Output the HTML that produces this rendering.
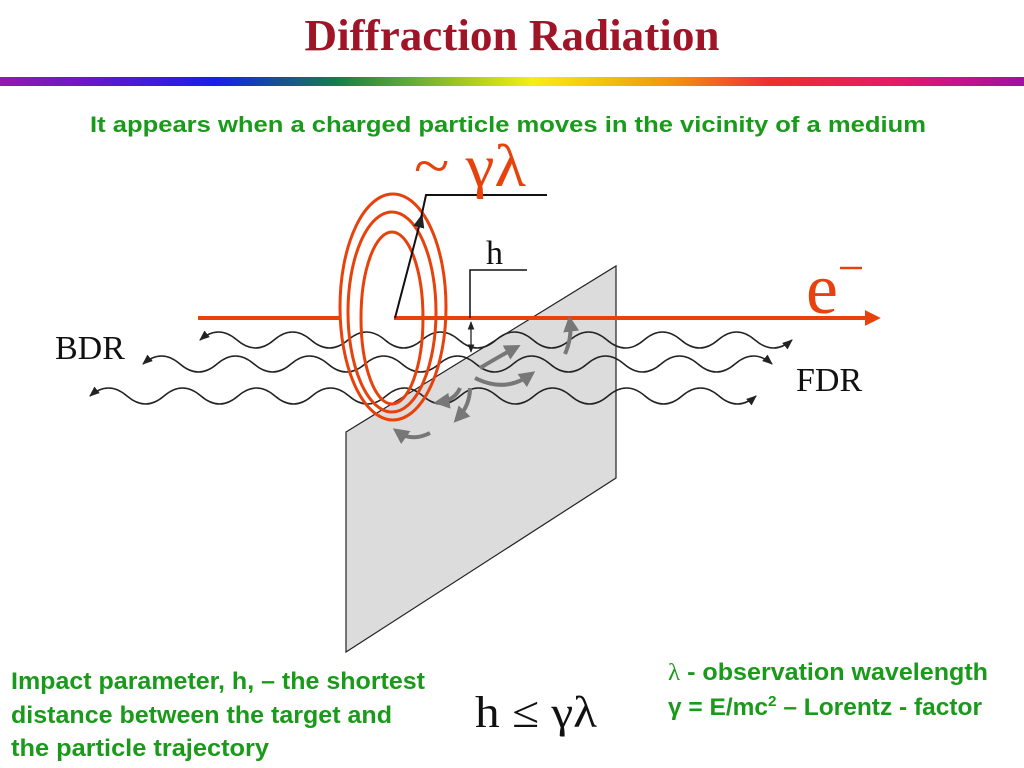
<!DOCTYPE html>
<html><head><meta charset="utf-8"><style>
html,body{margin:0;padding:0;background:#fff;}
svg{display:block;}
</style></head><body>
<svg width="1024" height="768" viewBox="0 0 1024 768" xmlns="http://www.w3.org/2000/svg">
<defs>
<linearGradient id="rb" x1="0" x2="1" y1="0" y2="0">
<stop offset="0" stop-color="#9a16b0"/>
<stop offset="0.21" stop-color="#1a1ee8"/>
<stop offset="0.33" stop-color="#11804a"/>
<stop offset="0.52" stop-color="#f4f010"/>
<stop offset="0.66" stop-color="#f39010"/>
<stop offset="0.75" stop-color="#ec3030"/>
<stop offset="0.88" stop-color="#e21a6a"/>
<stop offset="1" stop-color="#a010a8"/>
</linearGradient>
<marker id="ah" viewBox="0 0 10 10" refX="9" refY="5" markerWidth="7" markerHeight="7" orient="auto-start-reverse"><path d="M0,1 L10,5 L0,9 Z" fill="#222"/></marker>
<marker id="ga" viewBox="0 0 10 10" refX="6" refY="5" markerWidth="4" markerHeight="4" orient="auto"><path d="M0,0 L10,5 L0,10 Z" fill="#777"/></marker>
<marker id="ra" viewBox="0 0 10 10" refX="2" refY="5" markerWidth="4" markerHeight="4.5" orient="auto"><path d="M0,0 L10,5 L0,10 Z" fill="#e8420c"/></marker>
</defs>
<text x="512" y="50" text-anchor="middle" font-family="Liberation Serif, serif" font-weight="bold" font-size="44" fill="#a01428" textLength="415" lengthAdjust="spacingAndGlyphs">Diffraction Radiation</text>
<rect x="0" y="77" width="1024" height="9" fill="url(#rb)"/>
<text x="90" y="132" font-family="Liberation Sans, sans-serif" font-weight="bold" font-size="22" fill="#1a9a1a" textLength="836" lengthAdjust="spacingAndGlyphs">It appears when a charged particle moves in the vicinity of a medium</text>

<polygon points="346,432 616,266 616,478 346,652" fill="#dcdcdc" stroke="#222" stroke-width="1.2"/>

<g fill="none" stroke="#222" stroke-width="1.5">
<path marker-start="url(#ah)" marker-end="url(#ah)" d="M200,340 q18.5,-16 37,0 t37,0 t37,0 t37,0 t37,0 t37,0 t37,0 t37,0 t37,0 t37,0 t37,0 t37,0 t37,0 t37,0 t37,0 t37,0"/>
<path marker-start="url(#ah)" marker-end="url(#ah)" d="M143,364 q18.5,-16 37,0 t37,0 t37,0 t37,0 t37,0 t37,0 t37,0 t37,0 t37,0 t37,0 t37,0 t37,0 t37,0 t37,0 t37,0 t37,0 t37,0"/>
<path marker-start="url(#ah)" marker-end="url(#ah)" d="M90,396 q18.5,-16 37,0 t37,0 t37,0 t37,0 t37,0 t37,0 t37,0 t37,0 t37,0 t37,0 t37,0 t37,0 t37,0 t37,0 t37,0 t37,0 t37,0 t37,0"/>
</g>

<g fill="none" stroke="#e8420c" stroke-width="3">
<ellipse cx="393" cy="307" rx="53" ry="113"/>
<ellipse cx="392" cy="312" rx="44" ry="100"/>
<ellipse cx="392" cy="318" rx="31" ry="86"/>
</g>

<line x1="198" y1="318" x2="340" y2="318" stroke="#e8420c" stroke-width="4"/>
<line x1="394" y1="318" x2="868" y2="318" stroke="#e8420c" stroke-width="4" marker-end="url(#ra)"/>
<text x="806" y="313" font-family="Liberation Serif, serif" font-size="72" fill="#e8420c">e</text>
<line x1="840" y1="268" x2="862" y2="268" stroke="#e8420c" stroke-width="2.5"/>

<path d="M395,318 L422,215" stroke="#111" stroke-width="2" fill="none" marker-end="url(#ah)"/>
<path d="M421,218 L426,195 L547,195" stroke="#111" stroke-width="2" fill="none"/>
<text x="414" y="186" font-family="Liberation Serif, serif" font-size="60" fill="#e8420c" textLength="112" lengthAdjust="spacingAndGlyphs">~ γλ</text>

<path d="M527,270 L470,270 L470,318" stroke="#111" stroke-width="1.5" fill="none"/>
<line x1="471" y1="322" x2="471" y2="352" stroke="#111" stroke-width="1.2" marker-start="url(#ah)" marker-end="url(#ah)"/>
<text x="486" y="264" font-family="Liberation Serif, serif" font-size="34" fill="#111">h</text>

<g fill="none" stroke="#777" stroke-width="4" marker-end="url(#ga)">
<path d="M480,368 Q500,356 515,348"/>
<path d="M475,378 Q505,393 530,375"/>
<path d="M460,388 Q455,400 440,402"/>
<path d="M470,388 Q470,405 458,418"/>
<path d="M430,433 Q412,442 398,432"/>
<path d="M565,354 Q572,338 570,322"/>
</g>

<text x="55" y="359" font-family="Liberation Serif, serif" font-size="34" fill="#111">BDR</text>
<text x="796" y="391" font-family="Liberation Serif, serif" font-size="34" fill="#111">FDR</text>

<g font-family="Liberation Sans, sans-serif" font-weight="bold" font-size="24" fill="#1a9a1a">
<text x="11" y="689" textLength="414" lengthAdjust="spacingAndGlyphs">Impact parameter, h, – the shortest</text>
<text x="11" y="723" textLength="381" lengthAdjust="spacingAndGlyphs">distance between the target and</text>
<text x="11" y="756" textLength="258" lengthAdjust="spacingAndGlyphs">the particle trajectory</text>
<text x="668" y="680" textLength="320" lengthAdjust="spacingAndGlyphs"><tspan font-family="Liberation Serif, serif" font-weight="normal">λ</tspan> - observation wavelength</text>
<text x="668" y="715" textLength="314" lengthAdjust="spacingAndGlyphs">γ = E/mc<tspan font-size="15" dy="-9">2</tspan><tspan dy="9"> – Lorentz - factor</tspan></text>
</g>
<text x="475" y="727" font-family="Liberation Serif, serif" font-size="44" fill="#111" textLength="122" lengthAdjust="spacingAndGlyphs">h ≤ γλ</text>
</svg>
</body></html>
